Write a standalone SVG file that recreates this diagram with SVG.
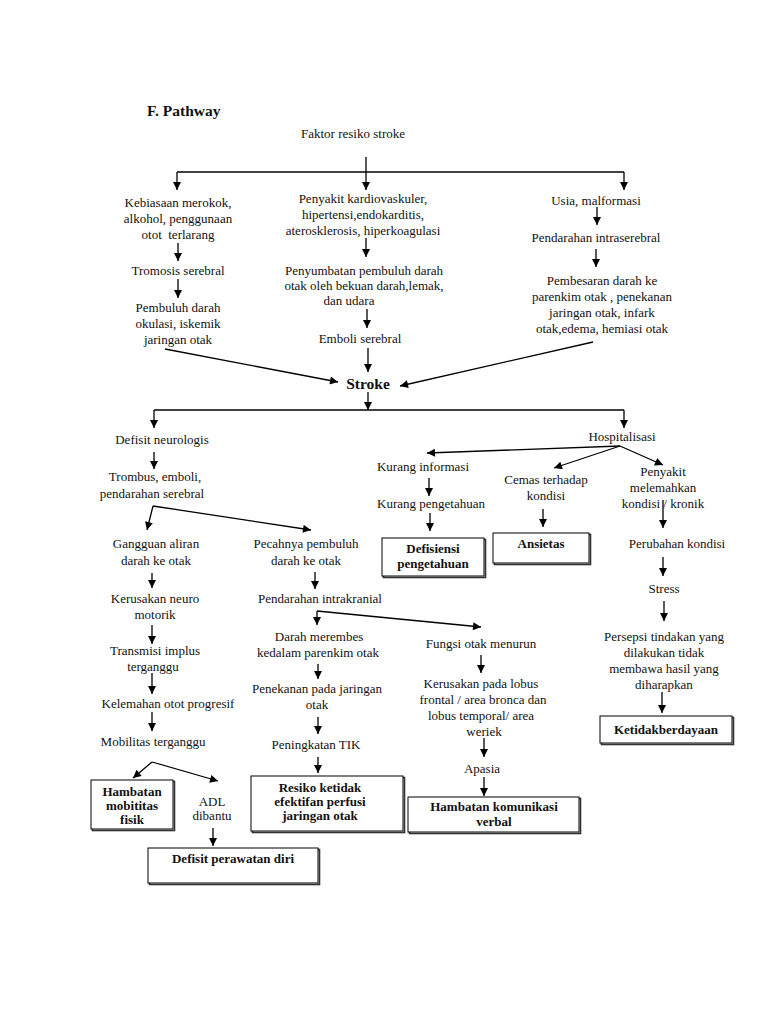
<svg xmlns="http://www.w3.org/2000/svg" width="768" height="1024" viewBox="0 0 768 1024">
<defs>
<marker id="ah" viewBox="0 0 10 10" refX="10" refY="5" markerWidth="9" markerHeight="8" markerUnits="userSpaceOnUse" orient="auto">
<path d="M0,0 L10,5 L0,10 z" fill="#000"/>
</marker>
</defs>
<style>
text{font-family:"Liberation Serif","Times New Roman",serif;font-size:13px;fill:#111;text-anchor:middle}
.b{font-weight:bold}
.t{font-size:15.5px;font-weight:bold;text-anchor:start}
.s{font-size:15.5px;font-weight:bold}
.c line,.c polyline{stroke:#000;stroke-width:1.3;fill:none}
.a{marker-end:url(#ah)}
.bx{fill:#fff;stroke:#000;stroke-width:1}
.sh{fill:#fff;stroke:#333;stroke-width:1.6}
</style>
<rect width="768" height="1024" fill="#fff"/>
<text class="t" x="147" y="116">F. Pathway</text>

<g class="c" id="connectors">
<line class="a" x1="366" y1="157" x2="366" y2="190"/>
<line x1="177" y1="172" x2="624" y2="172"/>
<line class="a" x1="177" y1="172" x2="177" y2="190"/>
<line class="a" x1="624" y1="172" x2="624" y2="190"/>
<line class="a" x1="178" y1="243" x2="178" y2="261"/>
<line class="a" x1="178" y1="279" x2="178" y2="298"/>
<line class="a" x1="366" y1="238" x2="366" y2="257"/>
<line class="a" x1="367" y1="309" x2="367" y2="328"/>
<line class="a" x1="597" y1="207" x2="597" y2="225"/>
<line class="a" x1="596" y1="249" x2="596" y2="267"/>
<line class="a" x1="165" y1="349" x2="338" y2="382"/>
<line class="a" x1="593" y1="342" x2="400" y2="386"/>
<line class="a" x1="368" y1="348" x2="368" y2="372"/>
<line x1="154" y1="410" x2="624" y2="410"/>
<line class="a" x1="154" y1="410" x2="154" y2="428"/>
<line class="a" x1="624" y1="410" x2="624" y2="428"/>
<line class="a" x1="368" y1="392" x2="368" y2="410"/>
<line class="a" x1="154" y1="452" x2="154" y2="469"/>
<line class="a" x1="153" y1="506" x2="147" y2="530"/>
<line class="a" x1="153" y1="506" x2="311" y2="530"/>
<line class="a" x1="152" y1="573" x2="152" y2="588"/>
<line class="a" x1="315" y1="572" x2="315" y2="589"/>
<line class="a" x1="152" y1="625" x2="152" y2="644"/>
<line class="a" x1="152" y1="673" x2="152" y2="694"/>
<line class="a" x1="152" y1="712" x2="152" y2="731"/>
<line class="a" x1="152" y1="762" x2="133" y2="778"/>
<line class="a" x1="152" y1="762" x2="218" y2="781"/>
<line class="a" x1="213" y1="828" x2="213" y2="846"/>
<line class="a" x1="317" y1="611" x2="317" y2="625"/>
<line class="a" x1="317" y1="611" x2="481" y2="627"/>
<line class="a" x1="318" y1="664" x2="318" y2="679"/>
<line class="a" x1="318" y1="717" x2="318" y2="734"/>
<line class="a" x1="318" y1="757" x2="318" y2="773"/>
<line class="a" x1="481" y1="655" x2="481" y2="673"/>
<line class="a" x1="484" y1="738" x2="484" y2="757"/>
<line class="a" x1="484" y1="777" x2="484" y2="796"/>
<line class="a" x1="620" y1="446" x2="427" y2="453"/>
<line class="a" x1="620" y1="446" x2="554" y2="468"/>
<line class="a" x1="620" y1="446" x2="663" y2="465"/>
<line class="a" x1="429" y1="478" x2="429" y2="496"/>
<line class="a" x1="430" y1="513" x2="430" y2="531"/>
<line class="a" x1="543" y1="509" x2="543" y2="527"/>
<line class="a" x1="663" y1="500" x2="663" y2="528"/>
<line class="a" x1="663" y1="557" x2="663" y2="576"/>
<line class="a" x1="664" y1="601" x2="664" y2="621"/>
<line class="a" x1="662" y1="692" x2="662" y2="713"/>
</g>

<g id="n-faktor"><text x="353" y="138">Faktor resiko stroke</text></g>
<g id="n-kebiasaan"><text x="178" y="207">Kebiasaan merokok,</text><text x="178" y="223">alkohol, penggunaan</text><text x="178" y="239" xml:space="preserve">otot  terlarang</text></g>
<g id="n-tromosis"><text x="178" y="275">Tromosis serebral</text></g>
<g id="n-pembuluh"><text x="178" y="312">Pembuluh darah</text><text x="178" y="328">okulasi, iskemik</text><text x="178" y="344">jaringan otak</text></g>
<g id="n-penyakit"><text x="363" y="203">Penyakit kardiovaskuler,</text><text x="363" y="219">hipertensi,endokarditis,</text><text x="363" y="235">aterosklerosis, hiperkoagulasi</text></g>
<g id="n-penyumbatan"><text x="364" y="275">Penyumbatan pembuluh darah</text><text x="364" y="290">otak oleh bekuan darah,lemak,</text><text x="349" y="305">dan udara</text></g>
<g id="n-emboli"><text x="360" y="343">Emboli serebral</text></g>
<g id="n-usia"><text x="596" y="205">Usia, malformasi</text></g>
<g id="n-pendarahan-is"><text x="596" y="242">Pendarahan intraserebral</text></g>
<g id="n-pembesaran"><text x="602" y="285">Pembesaran darah ke</text><text x="602" y="301">parenkim otak , penekanan</text><text x="602" y="317">jaringan otak, infark</text><text x="602" y="333">otak,edema, hemiasi otak</text></g>
<g id="n-stroke"><text class="s" x="368" y="389">Stroke</text></g>
<g id="n-defisit-neuro"><text x="162" y="444">Defisit neurologis</text></g>
<g id="n-trombus"><text x="155" y="481">Trombus, emboli,</text><text x="152" y="498">pendarahan serebral</text></g>
<g id="n-gangguan"><text x="156" y="548">Gangguan aliran</text><text x="156" y="565">darah ke otak</text></g>
<g id="n-pecahnya"><text x="306" y="548">Pecahnya pembuluh</text><text x="306" y="565">darah ke otak</text></g>
<g id="n-kerusakan-neuro"><text x="155" y="603">Kerusakan neuro</text><text x="155" y="619">motorik</text></g>
<g id="n-transmisi"><text x="155" y="655">Transmisi implus</text><text x="153" y="671">terganggu</text></g>
<g id="n-kelemahan"><text x="168" y="708">Kelemahan otot progresif</text></g>
<g id="n-mobilitas"><text x="153" y="746">Mobilitas terganggu</text></g>
<g id="n-hambatan-mob"><rect class="sh" x="92.5" y="781.5" width="82" height="49"/><rect class="bx" x="91" y="780" width="82" height="49"/><text class="b" x="132" y="796">Hambatan</text><text class="b" x="132" y="810">mobititas</text><text class="b" x="132" y="824">fisik</text></g>
<g id="n-adl"><text x="212" y="806">ADL</text><text x="212" y="820">dibantu</text></g>
<g id="n-defisit-rawat"><rect class="sh" x="149.5" y="849.5" width="170" height="35"/><rect class="bx" x="148" y="848" width="170" height="35"/><text class="b" x="233" y="863">Defisit perawatan diri</text></g>
<g id="n-pendarahan-ik"><text x="320" y="603">Pendarahan intrakranial</text></g>
<g id="n-darah"><text x="319" y="641">Darah merembes</text><text x="318" y="657">kedalam parenkim otak</text></g>
<g id="n-penekanan"><text x="317" y="693">Penekanan pada jaringan</text><text x="317" y="709">otak</text></g>
<g id="n-tik"><text x="316" y="749">Peningkatan TIK</text></g>
<g id="n-resiko"><rect class="sh" x="252.5" y="777.5" width="152" height="55"/><rect class="bx" x="251" y="776" width="152" height="55"/><text class="b" x="320" y="792">Resiko ketidak</text><text class="b" x="320" y="806">efektifan perfusi</text><text class="b" x="320" y="820">jaringan otak</text></g>
<g id="n-fungsi"><text x="481" y="648">Fungsi otak menurun</text></g>
<g id="n-kerusakan-lobus"><text x="481" y="688">Kerusakan pada lobus</text><text x="483" y="704">frontal / area bronca dan</text><text x="481" y="720">lobus temporal/ area</text><text x="484" y="736">weriek</text></g>
<g id="n-apasia"><text x="482" y="773">Apasia</text></g>
<g id="n-hambatan-kom"><rect class="sh" x="409.5" y="798.5" width="171" height="35"/><rect class="bx" x="408" y="797" width="171" height="35"/><text class="b" x="494" y="811">Hambatan komunikasi</text><text class="b" x="494" y="826">verbal</text></g>
<g id="n-hospitalisasi"><text x="622" y="441">Hospitalisasi</text></g>
<g id="n-kurang-info"><text x="423" y="471">Kurang informasi</text></g>
<g id="n-kurang-peng"><text x="431" y="508">Kurang pengetahuan</text></g>
<g id="n-defisiensi"><rect class="sh" x="383.5" y="539.5" width="102" height="38"/><rect class="bx" x="382" y="538" width="102" height="38"/><text class="b" x="433" y="553">Defisiensi</text><text class="b" x="433" y="568">pengetahuan</text></g>
<g id="n-cemas"><text x="546" y="484">Cemas terhadap</text><text x="546" y="500">kondisi</text></g>
<g id="n-ansietas"><rect class="sh" x="494.5" y="534.5" width="96" height="30"/><rect class="bx" x="493" y="533" width="96" height="30"/><text class="b" x="541" y="548">Ansietas</text></g>
<g id="n-penyakit-lemah"><text x="663" y="476">Penyakit</text><text x="663" y="492">melemahkan</text><text x="663" y="508">kondisi / kronik</text></g>
<g id="n-perubahan"><text x="677" y="548">Perubahan kondisi</text></g>
<g id="n-stress"><text x="664" y="593">Stress</text></g>
<g id="n-persepsi"><text x="664" y="641">Persepsi tindakan yang</text><text x="664" y="657">dilakukan tidak</text><text x="664" y="673">membawa hasil yang</text><text x="664" y="689">diharapkan</text></g>
<g id="n-ketidak"><rect class="sh" x="601.5" y="717.5" width="132" height="27"/><rect class="bx" x="600" y="716" width="132" height="27"/><text class="b" x="666" y="734">Ketidakberdayaan</text></g>
</svg>
